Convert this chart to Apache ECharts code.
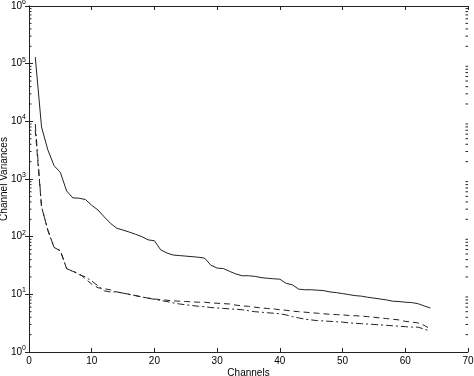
<!DOCTYPE html>
<html>
<head>
<meta charset="utf-8">
<script src="https://cdn.jsdelivr.net/npm/echarts@6/dist/echarts.min.js"></script>
<style>
  html, body { margin: 0; padding: 0; background: #fff; }
  #chart { width: 474px; height: 376px; }
</style>
</head>
<body>
<div id="chart"></div>
<script>
// channel index 1..64
const channels = [];
for (let i = 1; i <= 64; i++) channels.push(i);

const solidVals = [130000, 8000, 3200, 1700, 1300, 620, 470, 465, 440, 350,
  290, 220, 170, 140, 130, 120, 110, 100, 88, 85,
  59, 52, 48, 47, 46, 45, 44, 42.5, 32, 28.5,
  28, 25, 22.5, 21, 21, 20.5, 19.5, 19, 18.6, 18.3,
  15.5, 14.6, 12.3, 12, 12, 11.8, 11.6, 11, 10.7, 10.3,
  9.9, 9.5, 9.3, 8.9, 8.6, 8.3, 8.0, 7.6, 7.5, 7.3,
  7.2, 6.9, 6.3, 5.8];
const dashedVals = [7000, 330, 130, 65, 57, 28, 25, 23, 18.5, 15,
  13, 12.5, 12, 11, 10.5, 10, 9.5, 9, 8.6, 8.3,
  8.1, 7.9, 7.7, 7.6, 7.5, 7.4, 7.3, 7.3, 7.1, 7.0,
  6.9, 6.8, 6.5, 6.3, 6.2, 6.0, 5.8, 5.7, 5.6, 5.4,
  5.3, 5.1, 5.0, 4.9, 4.8, 4.7, 4.6, 4.5, 4.45, 4.4,
  4.3, 4.25, 4.2, 4.1, 4.0, 3.9, 3.8, 3.7, 3.6, 3.4,
  3.3, 3.2, 2.9, 2.5];
const dashDotVals = [9000, 330, 130, 65, 57, 28, 25, 22, 20, 17,
  14, 11.5, 11, 11, 10.5, 10, 9.5, 9, 8.6, 8.2,
  7.8, 7.5, 7.1, 6.8, 6.6, 6.4, 6.2, 6.1, 5.9, 5.8,
  5.7, 5.6, 5.5, 5.4, 5.2, 5.0, 4.9, 4.8, 4.7, 4.6,
  4.4, 4.1, 3.9, 3.7, 3.6, 3.5, 3.45, 3.4, 3.35, 3.3,
  3.2, 3.15, 3.1, 3.05, 3.0, 2.95, 2.9, 2.85, 2.8, 2.75,
  2.7, 2.7, 2.5, 2.3];

// minor tick values of the log axis (2..9 in each decade)
const minorTicks = [];
for (let d = 0; d < 6; d++) {
  for (let k = 2; k <= 9; k++) minorTicks.push(k * Math.pow(10, d));
}

const xMin = 0, xMax = 70;
const font = 'Liberation Sans, Arial, sans-serif';
const axisColor = '#222';
const lineColor = '#222';

function pairs(vals) {
  return vals.map(function (v, i) { return [channels[i], v]; });
}

const chart = echarts.init(document.getElementById('chart'));

chart.setOption({
  animation: false,
  backgroundColor: '#fff',
  grid: { left: 29, right: 6, top: 6, bottom: 24, containLabel: false, outerBoundsMode: 'none' },
  xAxis: [{
    type: 'value',
    min: xMin, max: xMax, interval: 10,
    name: 'Channels',
    nameLocation: 'middle',
    nameGap: 16,
    nameMoveOverlap: false,
    nameTextStyle: { fontFamily: font, fontSize: 10, color: '#000' },
    axisLine: { lineStyle: { color: axisColor, width: 1 } },
    axisTick: { inside: true, length: 4, lineStyle: { color: axisColor } },
    axisLabel: { fontFamily: font, fontSize: 10, color: '#000', margin: 4 },
    splitLine: { show: false }
  }, {
    type: 'value',
    position: 'top',
    min: xMin, max: xMax, interval: 10,
    axisLine: { lineStyle: { color: axisColor, width: 1 } },
    axisTick: { inside: true, length: 4, lineStyle: { color: axisColor } },
    axisLabel: { show: false },
    splitLine: { show: false }
  }],
  yAxis: [{
    type: 'log',
    logBase: 10,
    min: 1, max: 1e6,
    name: 'Channel Variances',
    nameLocation: 'middle',
    nameGap: 20,
    nameMoveOverlap: false,
    nameTextStyle: { fontFamily: font, fontSize: 10, color: '#000' },
    axisLine: { lineStyle: { color: axisColor, width: 1 } },
    axisTick: { inside: true, length: 4, lineStyle: { color: axisColor } },
    axisLabel: {
      margin: 3,
      formatter: function (v) {
        const e = Math.round(Math.log10(v));
        return '{b|10}{s|' + e + '}';
      },
      rich: {
        b: { fontFamily: font, fontSize: 10, color: '#000' },
        s: { fontFamily: font, fontSize: 7, color: '#000', verticalAlign: 'top', padding: [0, 0, 8, 0] }
      }
    },
    splitLine: { show: false }
  }, {
    type: 'log',
    logBase: 10,
    position: 'right',
    min: 1, max: 1e6,
    axisLine: { lineStyle: { color: axisColor, width: 1 } },
    axisTick: { inside: true, length: 4, lineStyle: { color: axisColor } },
    axisLabel: { show: false },
    splitLine: { show: false }
  }],
  series: [{
    name: 'minor ticks',
    type: 'custom',
    silent: true,
    clip: false,
    data: minorTicks.map(function (v) { return [xMin, v]; }),
    renderItem: function (params, api) {
      const v = api.value(1);
      const l = api.coord([xMin, v]);
      const r = api.coord([xMax, v]);
      const st = { stroke: axisColor, lineWidth: 1 };
      return {
        type: 'group',
        children: [
          { type: 'line', shape: { x1: l[0], y1: l[1], x2: l[0] + 2.5, y2: l[1] }, style: st },
          { type: 'line', shape: { x1: r[0], y1: r[1], x2: r[0] - 2.5, y2: r[1] }, style: st }
        ]
      };
    }
  }, {
    name: 'solid',
    type: 'line',
    data: pairs(solidVals),
    showSymbol: false,
    lineStyle: { color: lineColor, width: 1, type: 'solid' }
  }, {
    name: 'dashed',
    type: 'line',
    data: pairs(dashedVals),
    showSymbol: false,
    lineStyle: { color: lineColor, width: 1, type: [6, 4] }
  }, {
    name: 'dashdot',
    type: 'line',
    data: pairs(dashDotVals),
    showSymbol: false,
    lineStyle: { color: lineColor, width: 1, type: [7, 3, 2, 3] }
  }]
});
</script>
</body>
</html>
